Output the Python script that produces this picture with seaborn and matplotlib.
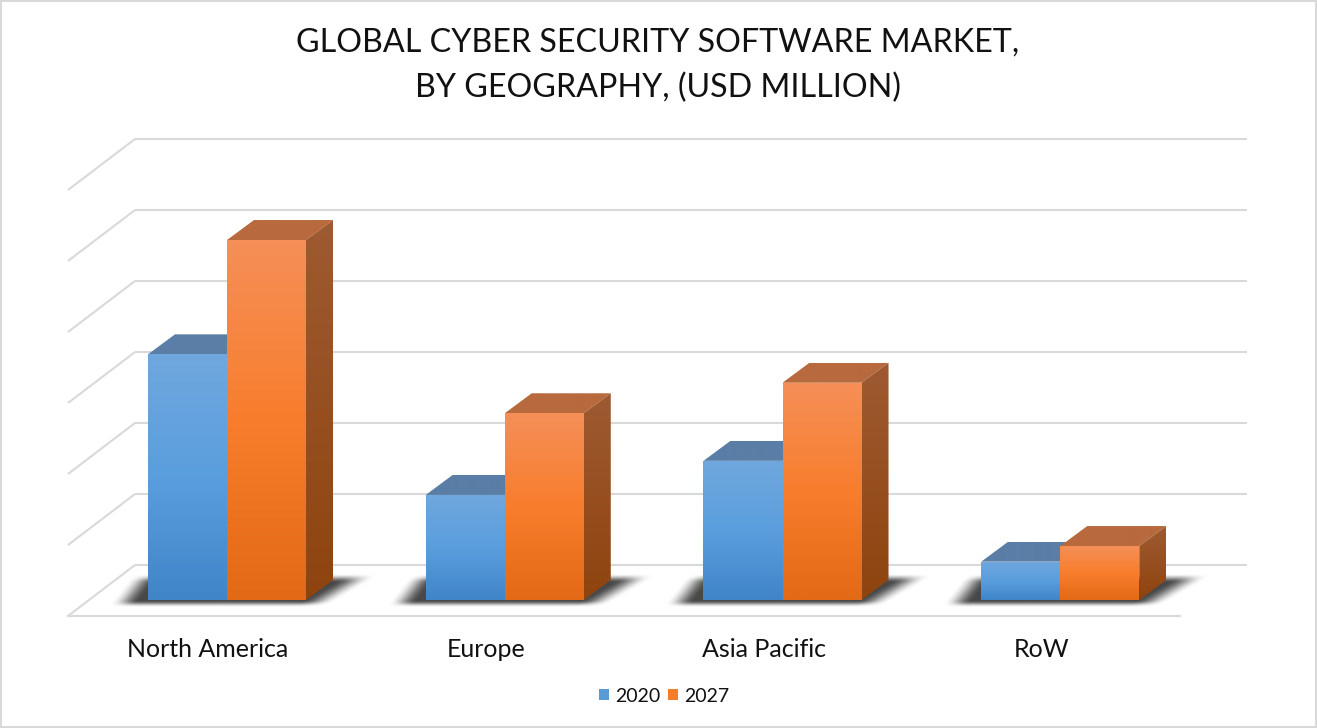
import numpy as np
import pandas as pd
import seaborn as sns
import matplotlib.pyplot as plt
from matplotlib.patches import Polygon
from matplotlib.transforms import ScaledTranslation

sns.set_theme(style="white")
plt.rcParams['font.family'] = ['Lato', 'DejaVu Sans']

regions = ['North America', 'Europe', 'Asia Pacific', 'RoW']
values_2020 = [3.46, 1.48, 1.96, 0.54]
values_2027 = [5.07, 2.63, 3.06, 0.76]
n_gridlines = 7

W, H = 1317, 728
# pixels per data unit
PX = 277.75
PY = 71.0
# depth of a bar and depth of the floor, in pixels
BAR_DX, BAR_DY = 27, 20
WALL_DX, WALL_DY = 67, 51

colors = {
    '2020': dict(front=[(112, 167, 221), (90, 158, 222), (64, 133, 200)],
                 side=[(89, 124, 164), (89, 124, 164)],
                 top=[(90, 126, 166), (90, 126, 166)]),
    '2027': dict(front=[(245, 143, 88), (248, 125, 44), (226, 105, 22)],
                 side=[(158, 90, 50), (143, 68, 14)],
                 top=[(184, 106, 62), (184, 106, 62)]),
}

df = pd.DataFrame({
    'region': regions * 2,
    'value': values_2020 + values_2027,
    'year': ['2020'] * 4 + ['2027'] * 4,
})

fig = plt.figure(figsize=(W / 100, H / 100), dpi=100)
fig.patch.set_edgecolor('#d9d9d9')
fig.patch.set_linewidth(1.5)
ax = fig.add_axes([68 / W, 1 - 616 / H, (1180 - 68) / W, (616 - 139) / H])

sns.barplot(data=df, x='region', y='value', hue='year', ax=ax, width=0.569, gap=0,
            saturation=1, palette={'2020': '#5b9bd5', '2027': '#f67c2a'}, zorder=5, linewidth=0)

xlim = ((68 - 227) / PX, (1180 - 227) / PX)
ylim = ((600 - 616) / PY, (600 - 139) / PY)


def gradient(verts, stops, zorder):
    # vertical gradient clipped to a polygon given in data units
    verts = np.array(verts)
    stops = np.array(stops) / 255
    t = np.linspace(0, 1, 200)
    rgb = np.stack([np.interp(t, np.linspace(0, 1, len(stops)), stops[:, i]) for i in range(3)], axis=1)
    extent = (verts[:, 0].min(), verts[:, 0].max(), verts[:, 1].min(), verts[:, 1].max())
    im = ax.imshow(rgb[:, None, :], extent=extent, aspect='auto', origin='upper',
                   interpolation='bilinear', zorder=zorder)
    im.set_clip_path(Polygon(verts, transform=ax.transData))
    return im


def soft(d, w):
    t = np.clip(d / w + 0.5, 0, 1)
    return t * t * (3 - 2 * t)


def shadow(x0, x1):
    # soft parallelogram on the floor behind one pair of bars
    xs = np.linspace(x0 - 70 / PX, x1 + 100 / PX, 340)
    ys = np.linspace(-14 / PY, 40 / PY, 80)
    gx, gy = np.meshgrid(xs, ys)
    s = (gy * PY + 4) / 26
    left = x0 + (-25 + 20 * s) / PX
    right = x1 + (8 + 44 * s) / PX
    a = soft((gx - left) * PX, 28) * soft((right - gx) * PX, 34)
    a = a * soft(gy * PY + 4, 7) * soft(22 - gy * PY, 9)
    rgba = np.zeros(gx.shape + (4,))
    rgba[..., :3] = 0.2
    rgba[..., 3] = a * 0.9
    ax.imshow(rgba, extent=(xs[0], xs[-1], ys[0], ys[-1]), aspect='auto', origin='lower',
              interpolation='bilinear', zorder=2, clip_on=False)


# back wall lines and the diagonals on the side wall
grid_kw = dict(color='#d9d9d9', lw=1.5, clip_on=False, zorder=1, solid_capstyle='butt')
floor = (600 - 616) / PY
for k in range(n_gridlines):
    y0 = floor + k
    ax.plot([xlim[0], xlim[0] + WALL_DX / PX], [y0, y0 + WALL_DY / PY], **grid_kw)
    ax.plot([xlim[0] + WALL_DX / PX, xlim[1] + WALL_DX / PX], [y0 + WALL_DY / PY] * 2, **grid_kw)

dx, dy = BAR_DX / PX, BAR_DY / PY
bars_2020, bars_2027 = ax.containers[0], ax.containers[1]

for a, b in zip(bars_2020, bars_2027):
    shadow(a.get_x(), b.get_x() + b.get_width())

for i, (year, bars) in enumerate(zip(['2020', '2027'], [bars_2020, bars_2027])):
    c = colors[year]
    for bar in bars:
        x0, x1 = bar.get_x(), bar.get_x() + bar.get_width()
        h = bar.get_height()
        z = 3 + i * 3
        gradient([(x0, h), (x1, h), (x1 + dx, h + dy), (x0 + dx, h + dy)], c['top'], z)
        gradient([(x1, 0), (x1 + dx, dy), (x1 + dx, h + dy), (x1, h)], c['side'], z)
        bar.set_zorder(z + 1)
        gradient([(x0, 0), (x1, 0), (x1, h), (x0, h)], c['front'], z + 1.5)

ax.set_xlim(xlim)
ax.set_ylim(ylim)
ax.patch.set_alpha(0)
ax.set_xlabel('')
ax.set_ylabel('')
ax.set_yticks([])
ax.tick_params(axis='x', length=0, pad=15.5, labelsize=18, labelcolor='#111111')
# labels sit a little left of the bars, on the front edge of the floor
for label in ax.get_xticklabels():
    label.set_transform(label.get_transform() + ScaledTranslation(-19 / 100, 0, fig.dpi_scale_trans))
sns.despine(ax=ax, left=True)
ax.spines['bottom'].set_color('#d9d9d9')
ax.spines['bottom'].set_linewidth(1.5)

leg = ax.legend(loc='center', bbox_to_anchor=(664 / W, 1 - 696 / H), bbox_transform=fig.transFigure,
                ncol=2, frameon=False, fontsize=14, handlelength=0.5, handleheight=0.5,
                columnspacing=0.42, handletextpad=0.3, labelcolor='#111111')

fig.text(658 / W, 1 - 65.5 / H, 'GLOBAL CYBER SECURITY SOFTWARE MARKET,\nBY GEOGRAPHY, (USD MILLION)',
         ha='center', va='center', fontsize=23.2, color='#111111', linespacing=1.63)

fig.savefig('out.png', dpi=100)
